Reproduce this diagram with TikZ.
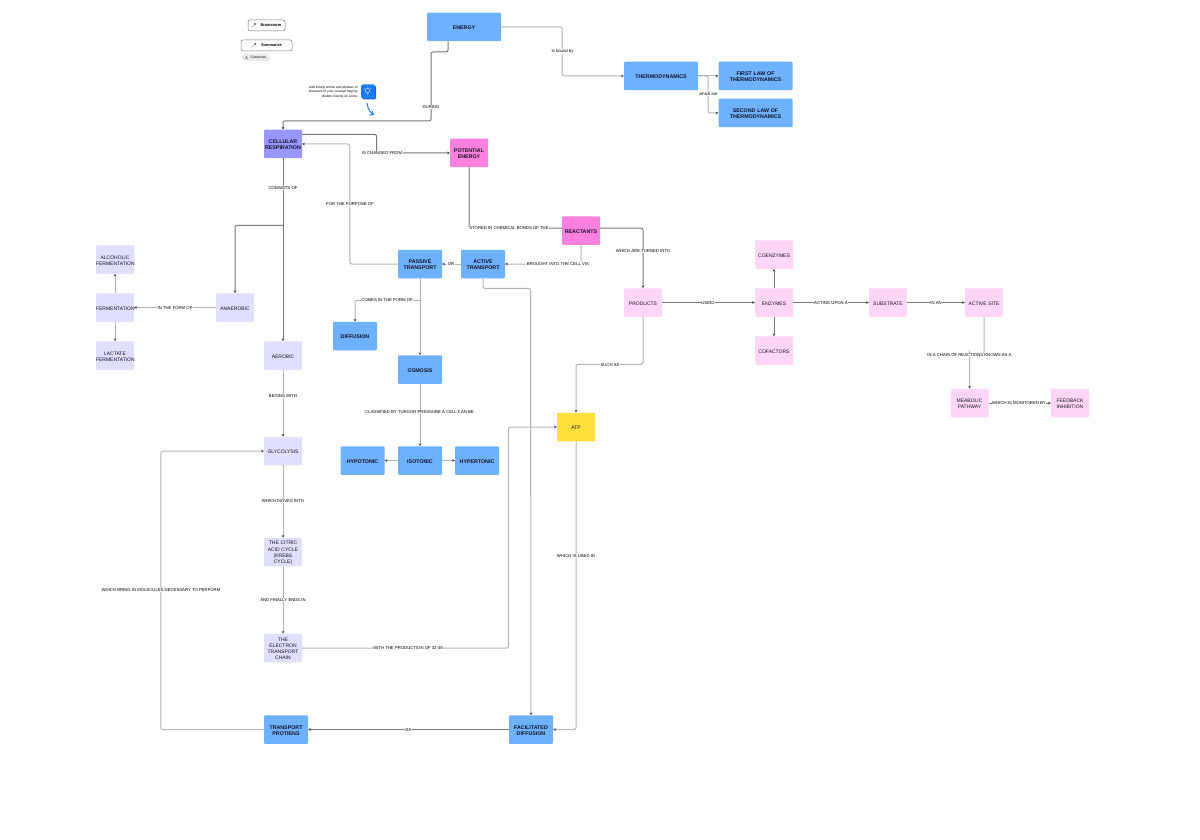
\documentclass[tikz,border=0pt]{standalone}
\usepackage{fontspec}
\setmainfont{Liberation Sans}
\usetikzlibrary{arrows.meta,calc,positioning}
\definecolor{blueboxc}{HTML}{6DB1FF}
\definecolor{violetc}{HTML}{9896FF}
\definecolor{lilacc}{HTML}{E0DFFD}
\definecolor{hotpinkc}{HTML}{FF80DF}
\definecolor{palepinkc}{HTML}{FFD6F7}
\definecolor{yellowc}{HTML}{FFDF3C}
\definecolor{inkc}{HTML}{111122}
\definecolor{linkc}{HTML}{B4B4B8}
\definecolor{darklinkc}{HTML}{77777C}
\definecolor{bulbc}{HTML}{1B7CF0}
\definecolor{bulbbackc}{HTML}{1766D0}
\tikzset{
  box/.style={rounded corners=1pt,minimum height=28.5pt,text width=#1,minimum width=#1,align=center,inner sep=0pt,text=inkc,font=\fontsize{5}{6.1}\selectfont,execute at begin node={\rule{0pt}{5.2pt}}},
  box/.default=38pt,
  wide/.style={box=44pt,fill=blueboxc,font=\fontsize{5.3}{6.1}\selectfont\bfseries},
  widest/.style={box=74pt,fill=blueboxc,font=\fontsize{5.3}{6.1}\selectfont\bfseries},
  hot/.style={box,fill=hotpinkc,font=\fontsize{5.3}{6.1}\selectfont\bfseries},
  pale/.style={box,fill=palepinkc},
  lilac/.style={box,fill=lilacc},
  link/.style={draw=linkc,line width=1pt,rounded corners=2pt,-{Stealth[length=2.6pt,width=2.6pt,color=inkc!80]}},
  darklink/.style={link,draw=darklinkc},
  lbl/.style={fill=white,inner sep=.5pt,yshift=-.4pt,text=black,font=\fontsize{4.25}{5}\selectfont},
  uibtn/.style={draw=darklinkc,line width=.5pt,rounded corners=2pt,minimum height=11pt,inner sep=0pt,font=\fontsize{3.9}{5}\selectfont\bfseries}
}
\begin{document}
\begin{tikzpicture}[x=1pt,y=-1pt]
  \useasboundingbox (0,0) rectangle (1200,840);

  % thermodynamics row
  \node [widest] (energy) at (464,27) {ENERGY};
  \node [widest] (thermo) at (661,76) {THERMODYNAMICS};
  \node [widest] (firstlaw) at (755.5,76) {FIRST LAW OF\\THERMODYNAMICS};
  \node [widest] (secondlaw) at (755.5,113) {SECOND LAW OF\\THERMODYNAMICS};

  % cellular respiration side
  \node [box,fill=violetc,font=\fontsize{5.3}{6.1}\selectfont\bfseries] (cellresp) at (283,144) {CELLULAR\\RESPIRATION};
  \node [lilac] (anaerobic) at (235,307.5) {ANAEROBIC};
  \node [lilac] (aerobic) at (283,355.5) {AEROBIC};
  \node [lilac] (alcoholic) at (115,259.5) {ALCOHOLIC\\FERMENTATION};
  \node [lilac] (fermentation) at (115,307.5) {FERMENTATION};
  \node [lilac] (lactate) at (115,355.5) {LACTATE\\FERMENTATION};
  \node [lilac] (glycolysis) at (283,451) {GLYCOLYSIS};
  \node [lilac] (krebs) at (283,552) {THE CITRIC\\ACID CYCLE\\(KREBS\\CYCLE)};
  \node [lilac] (electron) at (283,648) {THE\\ELECTRON\\TRANSPORT\\CHAIN};

  % transport
  \node [hot] (potential) at (469,153) {POTENTIAL\\ENERGY};
  \node [hot] (reactants) at (581,230.5) {REACTANTS};
  \node [wide] (passive) at (420,264) {PASSIVE\\TRANSPORT};
  \node [wide] (active) at (483,264) {ACTIVE\\TRANSPORT};
  \node [wide] (diffusion) at (355,336) {DIFFUSION};
  \node [wide] (osmosis) at (420,369.5) {OSMOSIS};
  \node [wide] (hypotonic) at (362.5,460.5) {HYPOTONIC};
  \node [wide] (isotonic) at (420,460.5) {ISOTONIC};
  \node [wide] (hypertonic) at (477,460.5) {HYPERTONIC};
  \node [wide] (transport) at (286,729.5) {TRANSPORT\\PROTIENS};
  \node [wide] (facilitated) at (531,729.5) {FACILITATED\\DIFFUSION};
  \node [box,fill=yellowc] (atp) at (576,427) {ATP};

  % enzymes
  \node [pale] (products) at (643,302.5) {PRODUCTS};
  \node [pale] (enzymes) at (774,302.5) {ENZYMES};
  \node [pale] (coenzymes) at (774,254.5) {COENZYMES};
  \node [pale] (cofactors) at (774,350.5) {COFACTORS};
  \node [pale] (substrate) at (888,302.5) {SUBSTRATE};
  \node [pale] (activesite) at (984,302.5) {ACTIVE SITE};
  \node [pale] (pathway) at (969.5,403) {MEABOLIC\\PATHWAY};
  \node [pale] (feedback) at (1070,403) {FEEDBACK\\INHIBITION};

  % connectors
  \draw [darklink] ($(energy.south)+(-16,0)$) -- ++(0,10.5) -| ++(-17,15) -- ++(0,54) -| (cellresp.north);
  \node [lbl] (during) at (431,107) {DURING};
  \draw [link] (energy.east) -| ++(61,25) |- (thermo.west);
  \node [lbl] (boundby) at (562.5,51) {Is bound by};
  \draw [link] (thermo.east) -- (firstlaw.west);
  \draw [link] (thermo.east) -- ++(10,0) |- (secondlaw.west);
  \node [lbl] (whichare) at (708.5,94) {which are};

  \draw [darklink] ($(cellresp.east)+(0,-9.5)$) -| ++(74.5,9) |- (potential.west);
  \node [lbl] (changed) at (382,153) {IS CHANGED FROM};
  \draw [link] (passive.west) -| ++(-48,-60) |- (cellresp.east);
  \node [lbl] (purpose) at (350,204) {FOR THE PURPOSE OF};
  \draw [darklink] (cellresp.south) -- (aerobic.north);
  \draw [darklink] ($(cellresp.south)+(0,67)$) -| (anaerobic.north);
  \node [lbl] (consists) at (283,188) {CONSISTS OF};

  \draw [darklink,-] (potential.south) |- ($(reactants.west)+(0,-2.5)$);
  \node [lbl] (stored) at (509,228) {STORED IN CHEMICAL BONDS OF THE};
  \draw [link] (reactants.south) |- (active.east);
  \node [lbl] (brought) at (558,264) {BROUGHT INTO THE CELL VIA};
  \draw [darklink] ($(reactants.east)+(0,-2.5)$) -| (products.north);
  \node [lbl] (turned) at (643,251) {WHICH ARE TURNED INTO};
  \draw [link] (active.west) -- (passive.east);
  \node [lbl] (orlbl) at (451,264) {OR};
  \draw [link] (passive.south) -- (osmosis.north);
  \draw [link] ($(passive.south)+(0,22)$) -| (diffusion.north);
  \node [lbl] (comes) at (387,300) {COMES IN THE FORM OF};
  \draw [link] (active.south) |- ++(47.5,10) -- (facilitated.north);
  \draw [link] (osmosis.south) -- (isotonic.north);
  \node [lbl] (turgor) at (419.5,411.5) {CLASSIFIED BY TURGOR PRESSURE A CELL CAN BE};
  \draw [link] (isotonic.west) -- (hypotonic.east);
  \draw [link] (isotonic.east) -- (hypertonic.west);

  \draw [link] (products.south) |- ++(-33.5,47.5) -| (atp.north);
  \node [lbl] (suchas) at (610,365) {SUCH AS};
  \draw [link] (atp.south) |- (facilitated.east);
  \node [lbl] (usedin) at (576,556) {WHICH IS USED IN};
  \draw [link] (electron.east) -| ++(206.5,-110) |- (atp.west);
  \node [lbl] (production) at (408,648) {WITH THE PRODUCTION OF 32-38};
  \draw [darklink] (facilitated.west) -- (transport.east);
  \node [lbl] (via) at (408,729.5) {VIA};
  \draw [link] (transport.west) -| ++(-103,-150) |- (glycolysis.west);
  \node [lbl] (molecules) at (161,590) {WHICH BRING IN MOLECULES NECESSARY TO PERFORM};

  \draw [link] (aerobic.south) -- (glycolysis.north);
  \node [lbl] (begins) at (283,396) {BEGINS WITH};
  \draw [link] (glycolysis.south) -- (krebs.north);
  \node [lbl] (moves) at (283,501) {WHICH MOVES INTO};
  \draw [link] (krebs.south) -- (electron.north);
  \node [lbl] (finally) at (283,600) {AND FINALLY ENDS IN};
  \draw [link] (anaerobic.west) -- (fermentation.east);
  \node [lbl] (informof) at (175,307.5) {IN THE FORM OF};
  \draw [link] (fermentation.north) -- (alcoholic.south);
  \draw [link] (fermentation.south) -- (lactate.north);

  \draw [darklink] (products.east) -- (enzymes.west);
  \node [lbl] (using) at (708,302.5) {USING};
  \draw [darklink] (enzymes.north) -- (coenzymes.south);
  \draw [darklink] (enzymes.south) -- (cofactors.north);
  \draw [darklink] (enzymes.east) -- (substrate.west);
  \node [lbl] (acting) at (831,302.5) {ACTING UPON A};
  \draw [darklink] (substrate.east) -- (activesite.west);
  \node [lbl] (inan) at (936,302.5) {IN AN};
  \draw [link] (activesite.south) |- ++(-14.5,37) -| (pathway.north);
  \node [lbl] (chain) at (969.5,354.5) {IN A CHAIN OF REACTIONS KNOWN AS A};
  \draw [darklink] (pathway.east) -- (feedback.west);
  \node [lbl] (monitored) at (1019,403) {WHICH IS MONITORED BY};

  % toolbar bits
  \node [uibtn,minimum width=37pt] (brainstorm) at (266.5,25.5) {\hspace{9pt}Brainstorm};
  \node [uibtn,minimum width=51pt] (summarize) at (266.5,45.5) {\hspace{10pt}Summarize};
  \node [fill=black!8,rounded corners=3pt,minimum width=28pt,minimum height=7pt,inner sep=0pt,font=\fontsize{3.3}{4}\selectfont] (customize) at (256,57.5) {\hspace{5pt}Customize};
  \draw [line width=.35pt,black!70] (251.5,27.5) -- (254.5,24.5) (255.2,23.8) circle (.8pt);
  \draw [line width=.35pt,black!70] (251.5,47.5) -- (254.5,44.5) (255.2,43.8) circle (.8pt);
  \draw [line width=.3pt,black!70] (245,59) -- (247,56.5) (246,56.5) -- (248,59);

  % hint
  \node [align=right,inner sep=0pt,anchor=east,font=\fontsize{3.3}{4.3}\selectfont] (hint) at (358,92) {Add linking words and phrases to\\branches of your concept map by\\double clicking on a line.};
  \node [fill=bulbbackc,rounded corners=1.5pt,minimum size=14pt,inner sep=0pt] (bulbback) at (369,92.5) {};
  \node [fill=bulbc,rounded corners=1.5pt,minimum size=14pt,inner sep=0pt] (bulb) at (368,91.5) {};
  \draw [white!85!bulbc,line width=.45pt] (367.5,90.5) circle (2.2pt) (366.5,93.5) -- (368.5,93.5) (366.8,94.8) -- (368.2,94.8)
    (367.5,86.5) -- (367.5,87.3) (363.8,88) -- (364.5,88.6) (371.2,88) -- (370.5,88.6);
  \coordinate (hintstart) at (367,103);
  \coordinate (hintend) at (374,115);
  \draw [bulbc,line width=1pt,-{Straight Barb[length=3pt,width=5pt]}] (hintstart) .. controls (368,110) and (371,113) .. (hintend);
\end{tikzpicture}
\end{document}
